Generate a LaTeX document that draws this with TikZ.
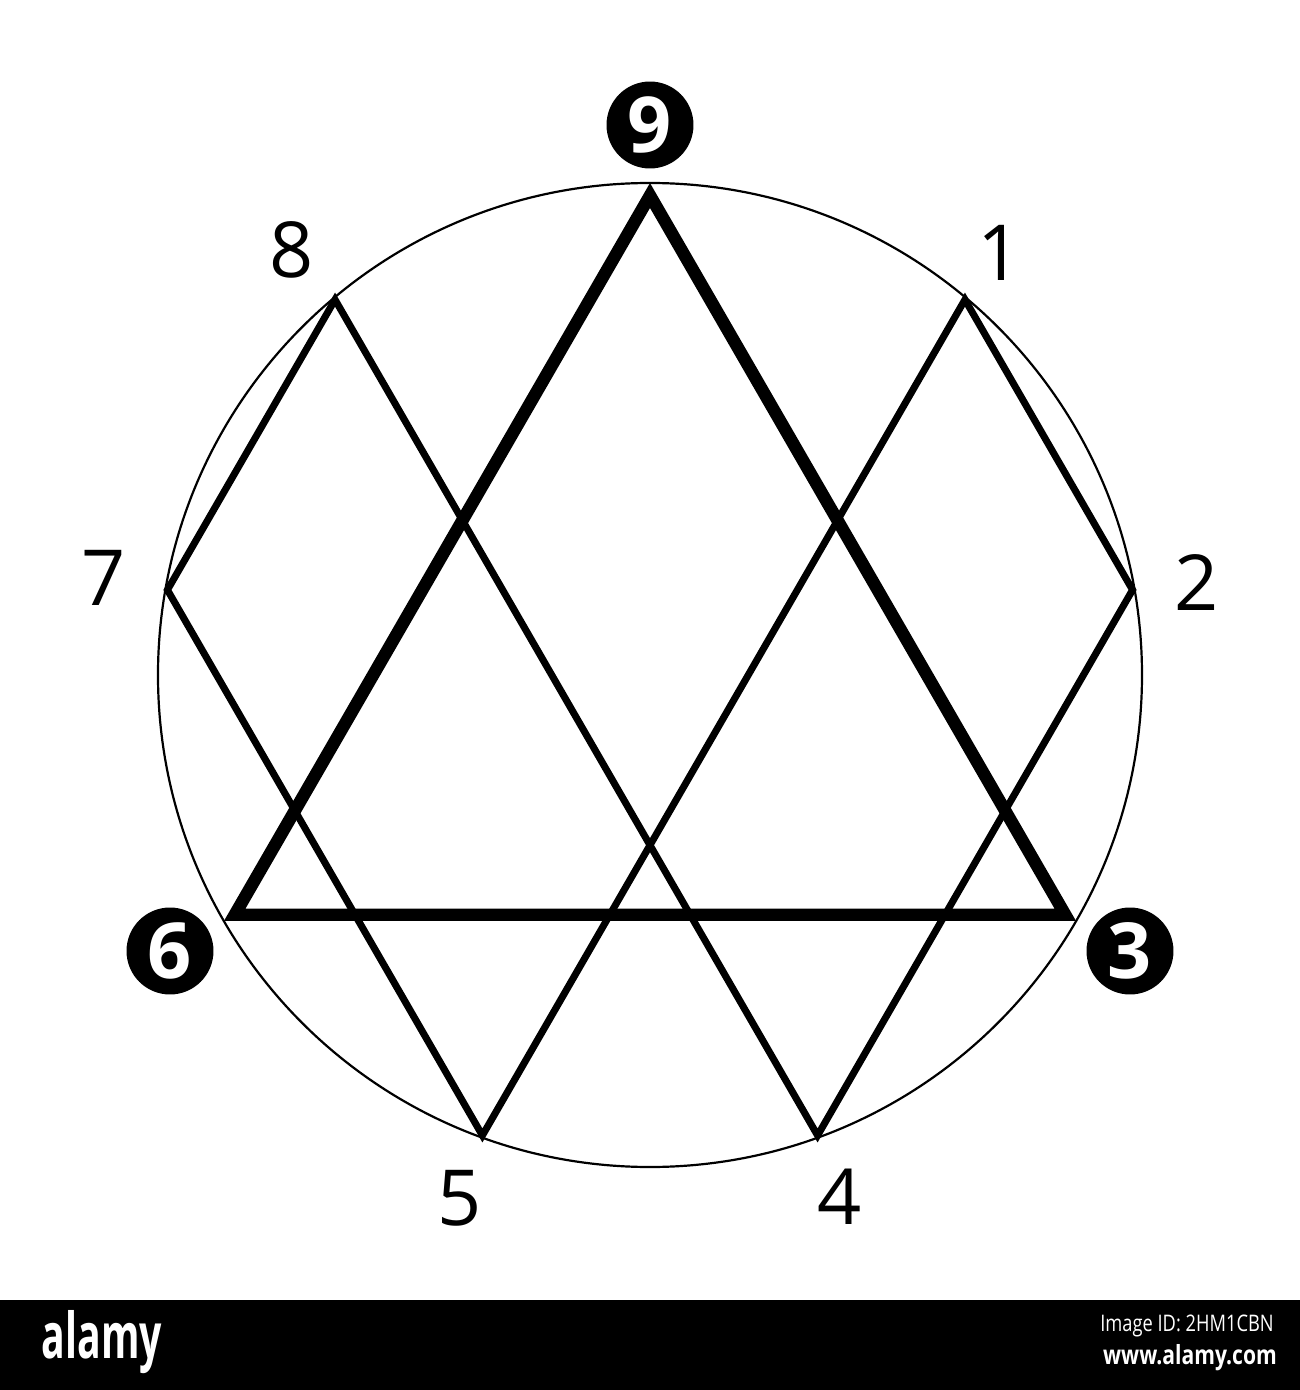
\documentclass[tikz,border=0pt]{standalone}
\usepackage{fontspec}
\setmainfont{Open Sans}
\usepackage{tikz}

\begin{document}
\begin{tikzpicture}[x=0.02cm, y=0.02cm,
    numlabel/.style={font=\fontsize{44}{44}\selectfont, inner sep=0pt},
    keylabel/.style={circle, fill=black, text=white, minimum size=1.74cm, inner sep=0pt,
      font=\fontsize{44}{44}\selectfont\bfseries},
    thinline/.style={line width=4pt, line join=miter},
    thickline/.style={line width=7.1pt, line join=miter}]
    \useasboundingbox (-650,-715) rectangle (650,675);
    % ring
    \draw[line width=1.25pt] (0,0) circle (492);
    % corners of the thick triangle
    \coordinate (t9) at (90:479.5);
    \coordinate (t3) at (-30:479.5);
    \coordinate (t6) at (210:479.5);
    % corners of the thin zigzag
    \foreach \n/\a in {1/50, 2/10, 4/-70, 5/-110, 7/170, 8/130}
        \coordinate (p\n) at (\a:490);
    \draw[thinline] (p8) -- (p7) -- (p5) -- (p1) -- (p2) -- (p4) -- cycle;
    \draw[thickline] (t9) -- (t3) -- (t6) -- cycle;
    % numbers
    \node[keylabel] (n9) at (0,550) {9};
    \node[keylabel] (n3) at (480,-276) {3};
    \node[keylabel] (n6) at (-480,-276) {6};
    \node[numlabel] (n1) at (350,422) {1};
    \node[numlabel] (n2) at (547,92) {2};
    \node[numlabel] (n4) at (190,-522) {4};
    \node[numlabel] (n5) at (-190,-523) {5};
    \node[numlabel] (n7) at (-546,97) {7};
    \node[numlabel] (n8) at (-358,425) {8};
    % bottom band
    \fill[black] (-650,-625) rectangle (650,-715);
    \node[text=white, font=\fontsize{36}{36}\selectfont\bfseries, xscale=0.62, inner sep=0pt] (brand) at (-548,-667) {alamy};
    \node[text=white, font=\fontsize{13}{13}\selectfont, xscale=0.8, inner sep=0pt] (imgid) at (537,-651) {Image ID: 2HM1CBN};
    \node[text=white, font=\fontsize{15}{15}\selectfont\bfseries, xscale=0.8, inner sep=0pt] (site) at (540,-683) {www.alamy.com};
\end{tikzpicture}
\end{document}
